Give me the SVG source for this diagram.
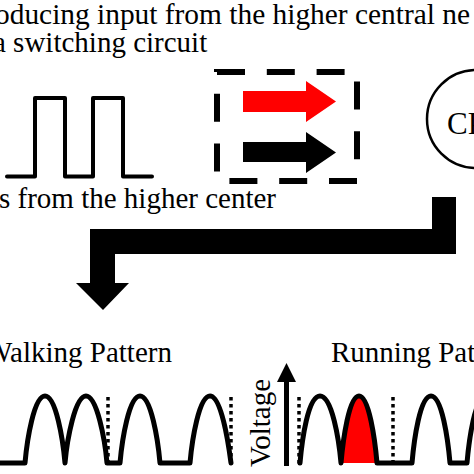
<svg xmlns="http://www.w3.org/2000/svg" width="474" height="474" viewBox="0 0 474 474">
<style>
  .t { font-family: "Liberation Serif", "Times New Roman", serif; font-size: 29px; fill: #000; }
  .wave { fill: none; stroke: #000; stroke-width: 5; stroke-linejoin: round; stroke-linecap: round; }
  .dots { fill: none; stroke: #000; stroke-width: 3.5; stroke-dasharray: 3.5 3.5; }
</style>
<rect width="474" height="474" fill="#fff"/>

<g id="title">
  <text class="t" x="-5" y="24" style="font-size:29.4px">oducing input from the higher central ne</text>
  <text class="t" x="-7" y="52">a switching circuit</text>
</g>

<g id="pulses">
  <path d="M7,176.5 H35 V98 H65 V176.5 H93 V98 H123 V176.5 H152" fill="none" stroke="#000" stroke-width="4" stroke-linejoin="round" stroke-linecap="round"/>
  <text class="t" x="-1" y="208">s from the higher center</text>
</g>

<g id="switch-box">
  <rect x="217" y="72" width="140" height="109" fill="none" stroke="#000" stroke-width="6" stroke-dasharray="28 21.8"/>
  <polygon points="243,91 306,91 306,81 336,101.5 306,122 306,112 243,112" fill="#ff0000"/>
  <polygon points="243,142 306,142 306,132 336,152.5 306,173 306,162 243,162" fill="#000"/>
</g>

<g id="cpg">
  <circle cx="476" cy="119" r="49" fill="none" stroke="#000" stroke-width="2.5"/>
  <text class="t" x="447" y="134" style="font-size:31px">CP</text>
</g>

<g id="connectors">
  <polygon points="432,197 456,197 456,254 115,254 115,283 129,283 103,310 76,283 90,283 90,229 432,229" fill="#000"/>
</g>

<g id="walking">
  <text class="t" x="-15" y="362">Walking Pattern</text>
  <path class="wave" d="M0,463 H25
    C27,440 34,396 45,396 C56,396 63,440 65,463
    C67,440 75,396 86,396 C97,396 105,440 107,463
    H120
    C122,440 129,396 140,396 C151,396 158,440 160,463
    H190
    C192,440 199,396 210,396 C221,396 228,440 231,463"/>
  <line class="dots" x1="108" y1="397" x2="108" y2="464"/>
  <line class="dots" x1="231" y1="397" x2="231" y2="464"/>
</g>

<g id="voltage-axis">
  <text class="t" transform="translate(270,467) rotate(-90)">Voltage</text>
  <rect x="284" y="378" width="5" height="88" fill="#000"/>
  <polygon points="277,382 286.5,363 296,382" fill="#000"/>
</g>

<g id="running">
  <text class="t" x="331" y="362">Running Pattern</text>
  <path d="M341,463 C343,440 349,396 359,396 C369,396 375,440 377,463 Z" fill="#ff0000"/>
  <path class="wave" d="M300,463
    C302,440 308,396 320,396 C332,396 339,440 341,463
    C343,440 349,396 359,396 C369,396 375,440 377,463
    H412
    C414,440 420,396 431,396 C442,396 448,440 450,463
    H467
    C469,440 475,396 486,396"/>
  <line class="dots" x1="299" y1="397" x2="299" y2="464"/>
  <line class="dots" x1="393" y1="397" x2="393" y2="464"/>
</g>
</svg>
